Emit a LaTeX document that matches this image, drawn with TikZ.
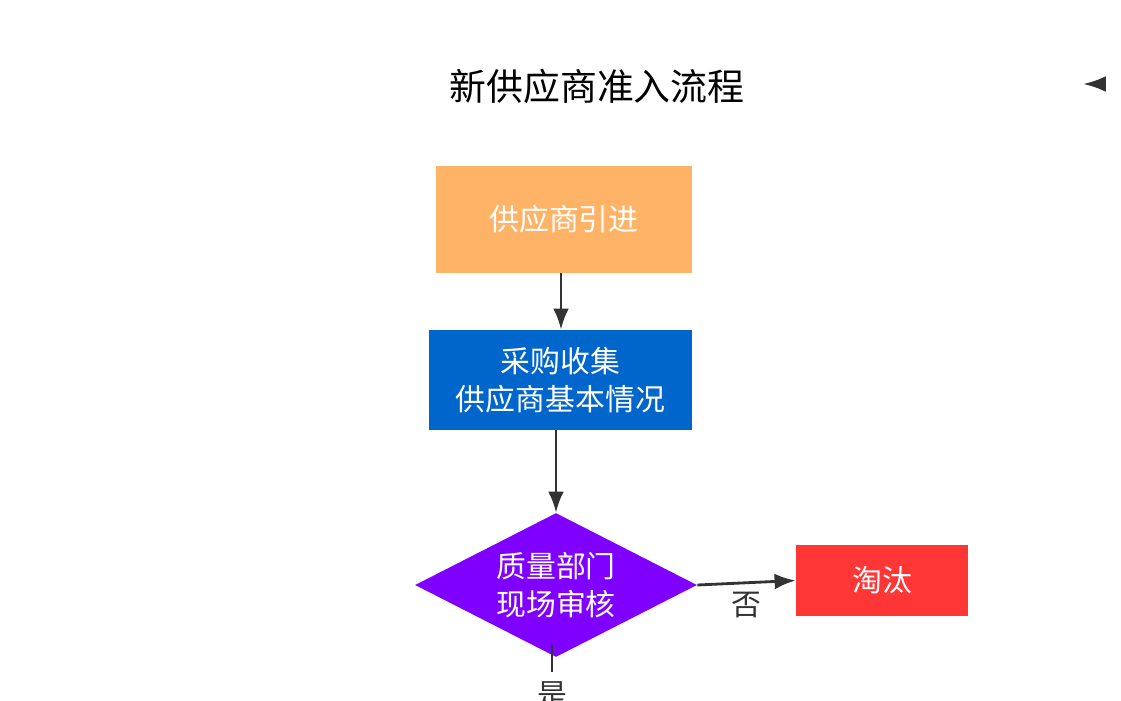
\documentclass[tikz,border=0pt]{standalone}
\usepackage{fontspec}
\newfontfamily\cjk{Noto Sans CJK SC}
\usetikzlibrary{arrows.meta, shapes.geometric}
\definecolor{boxorange}{HTML}{FFB366}
\definecolor{boxblue}{HTML}{0066CC}
\definecolor{boxpurple}{HTML}{7F00FF}
\definecolor{boxred}{HTML}{FF3636}
\definecolor{linegray}{HTML}{333333}

\begin{document}
\begin{tikzpicture}[x=0.02cm, y=-0.02cm, >={Latex[length=12pt,width=9pt]},
	font=\cjk\fontsize{17}{21.5}\selectfont,
	flowbox/.style={draw=none, text=white, align=center, inner sep=0pt},
	flowline/.style={->, draw=linegray, line width=1.6pt}]

\useasboundingbox (0,0) rectangle (1121,700);

% ================= Title =================
\node[font=\cjk\fontsize{21}{25}\selectfont] (title) at (597,86) {新供应商准入流程};
\coordinate (tailA) at (1106,84);
\coordinate (tailB) at (1083,84);
\draw[draw=linegray, line width=1.6pt, -{Latex[length=13pt,width=9pt]}] (tailA) -- (tailB);

% ================= Steps =================
\node[flowbox, fill=boxorange, minimum width=5.12cm, minimum height=2.14cm]
	(intro) at (564,219.5) {供应商引进};
\node[flowbox, fill=boxblue, minimum width=5.26cm, minimum height=2.0cm]
	(collect) at (560.5,380) {采购收集\\供应商基本情况};
\node[flowbox, fill=boxpurple, shape=diamond, aspect=1.96,
	minimum width=5.64cm, minimum height=2.88cm]
	(audit) at (556,585) {质量部门\\现场审核};
\node[flowbox, fill=boxred, minimum width=3.44cm, minimum height=1.42cm]
	(reject) at (882,580.5) {淘汰};

% ================= Connectors =================
\draw[flowline] (intro.south -| 561,0) -- (collect.north -| 561,0);
\draw[flowline] (collect.south -| audit.north) -- (audit.north);
\draw[flowline] (audit.east) -- (reject.west)
	node[pos=0.5, below=1pt, text=linegray] (no) {否};

% "yes" branch (runs off the bottom)
\coordinate (yesend) at (552,672);
\draw[draw=linegray, line width=1.6pt] (audit.south -| yesend) ++(0,-12) -- (yesend);
\node[text=linegray, anchor=north] (yes) at (552,675) {是};

\end{tikzpicture}
\end{document}
